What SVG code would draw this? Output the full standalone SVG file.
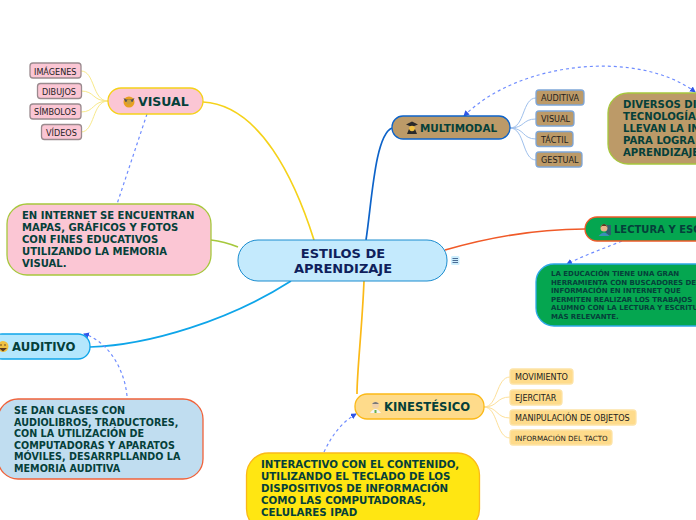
<svg xmlns="http://www.w3.org/2000/svg" width="696" height="520" viewBox="0 0 696 520">
<style>
text{font-family:"DejaVu Sans",Verdana,sans-serif;fill:#05403a}
.b{font-weight:700}
.leaf{font-size:8.100px;fill:#1c1c1c}
.pk{fill:#fbc6d4;stroke:#9a8a8e;stroke-width:1.300}
.br{fill:#bc9a68;stroke:#7ea6d8;stroke-width:1.300}
.or{fill:#fedb8b;stroke:#fde3a6;stroke-width:1.300}
.c{fill:none;stroke-width:1.700}
.s{fill:none;stroke-width:1}
.d{fill:none;stroke:#6f8cff;stroke-width:1.200;stroke-dasharray:3 3}
</style>
<defs>
<marker id="a" markerWidth="6" markerHeight="6" refX="5" refY="3" orient="auto-start-reverse" markerUnits="userSpaceOnUse"><path d="M0 0L6 3L0 6Z" fill="#2f55e8"/></marker>
</defs>
<g id="connectors">
<path class="c" stroke="#f5d21a" d="M314 240C295 180 260 105 203 102"/>
<path class="c" stroke="#a6c83c" d="M238 247C228 243 220 241 211 240"/>
<path class="c" stroke="#0ea5e9" d="M291 281C230 320 150 345 90 347"/>
<path class="c" stroke="#0d63c9" d="M366 240C372 200 375 135 392 128"/>
<path class="c" stroke="#f05a28" d="M445 250C490 237 540 229 585 229"/>
<path class="c" stroke="#fbb917" d="M364 281C362 330 357 370 357 394"/>
<g class="s" stroke="#f8e98a">
<path d="M108 101C92 101 95 71 81 71"/><path d="M108 101C92 101 95 91 81 91"/><path d="M108 101C92 101 95 112 81 112"/><path d="M108 101C92 101 95 132 81 132"/>
</g>
<g class="s" stroke="#9fc0ec">
<path d="M510 128C525 128 522 98 536 98"/><path d="M510 128C525 128 522 119 536 119"/><path d="M510 128C525 128 522 139 536 139"/><path d="M510 128C525 128 522 160 536 160"/>
</g>
<g class="s" stroke="#fde09a">
<path d="M484 407C498 407 496 377 510 377"/><path d="M484 407C498 407 496 397 510 397"/><path d="M484 407C498 407 496 418 510 418"/><path d="M484 407C498 407 496 438 510 438"/>
</g>
<path class="d" d="M147 114L117 204"/>
<path class="d" marker-start="url(#a)" marker-end="url(#a)" d="M464 116C520 60 640 50 695 92"/>
<path class="d" marker-end="url(#a)" d="M622 241C600 250 585 255 567 264"/>
<path class="d" marker-end="url(#a)" d="M324 452C332 435 342 422 356 414"/>
<path class="d" marker-end="url(#a)" d="M127 396C124 365 105 340 84 334"/>
</g>
<g id="center">
<rect x="238" y="240" width="209" height="41" rx="20" fill="#c4eafd" stroke="#1a8ccf"/>
<text class="b" font-size="13" x="343" y="258" text-anchor="middle" style="fill:#0f1f5c">ESTILOS DE</text>
<text class="b" font-size="13" x="343" y="273" text-anchor="middle" style="fill:#0f1f5c">APRENDIZAJE</text>
<rect x="451" y="256" width="8.500" height="9" rx="1.500" fill="#cdeefd"/>
<path d="M452.500 258.500h5.500M452.500 260.500h5.500M452.500 262.500h5.500" stroke="#2a4a7a" stroke-width=".8"/>
</g>
<g id="visual">
<rect x="108" y="88" width="95" height="26" rx="13" fill="#fbc6d4" stroke="#f5d21a" stroke-width="1.300"/>
<circle cx="129" cy="102" r="5.500" fill="#e8a020"/><path d="M123.500 98l2 4h7l2-4-3 1.500h-5z" fill="#555"/><circle cx="129" cy="102" r="2.500" fill="#c8a040"/>
<text class="b" font-size="12.500" x="138" y="106">VISUAL</text>
</g>
<g id="imagenes"><rect class="pk" x="30" y="63" width="51" height="15" rx="3"/><text class="leaf" x="34" y="74.500">IMÁGENES</text></g>
<g id="dibujos"><rect class="pk" x="37.500" y="83.500" width="44" height="15" rx="3"/><text class="leaf" x="42" y="94.500">DIBUJOS</text></g>
<g id="simbolos"><rect class="pk" x="30" y="104" width="51" height="15" rx="3"/><text class="leaf" x="34" y="115">SÍMBOLOS</text></g>
<g id="videos"><rect class="pk" x="41.500" y="124.500" width="40" height="15" rx="3"/><text class="leaf" x="46" y="135.500">VÍDEOS</text></g>
<g id="internet">
<rect x="7" y="204" width="204" height="71" rx="20" fill="#fbc6d4" stroke="#a6c83c" stroke-width="1.300"/>
<g class="b" font-size="10.050">
<text x="22" y="219">EN INTERNET SE ENCUENTRAN</text><text x="22" y="231">MAPAS, GRÁFICOS Y FOTOS</text><text x="22" y="243">CON FINES EDUCATIVOS</text><text x="22" y="255">UTILIZANDO LA MEMORIA</text><text x="22" y="267">VISUAL.</text>
</g>
</g>
<g id="multimodal">
<rect x="392" y="116" width="118" height="23" rx="11" fill="#bc9a68" stroke="#0d63c9" stroke-width="1.300"/>
<path d="M406 124.500l6-3 6 3-6 2.500zM407 134l2-5h6l2 5z" fill="#2a2a2a"/><circle cx="412" cy="128.500" r="2.800" fill="#f0c040"/>
<text class="b" font-size="10.400" x="420" y="132">MULTIMODAL</text>
</g>
<g id="auditiva"><rect class="br" x="536" y="90" width="48" height="15" rx="3"/><text class="leaf" x="541" y="101">AUDITIVA</text></g>
<g id="mvisual"><rect class="br" x="536" y="111" width="38" height="15" rx="3"/><text class="leaf" x="541" y="121.500">VISUAL</text></g>
<g id="tactil"><rect class="br" x="536" y="131.500" width="37" height="15" rx="3"/><text class="leaf" x="541" y="142.500">TÁCTIL</text></g>
<g id="gestual"><rect class="br" x="536" y="152" width="46" height="15" rx="3"/><text class="leaf" x="541" y="162.500">GESTUAL</text></g>
<g id="diversos">
<rect x="608" y="93" width="120" height="71" rx="20" fill="#bc9a68" stroke="#a6c83c" stroke-width="1.300"/>
<g class="b" font-size="10.100">
<text x="623" y="108">DIVERSOS DI</text><text x="623" y="120">TECNOLOGÍA</text><text x="623" y="132">LLEVAN LA IN</text><text x="623" y="144">PARA LOGRA</text><text x="623" y="156">APRENDIZAJE</text>
</g>
</g>
<g id="lectura">
<rect x="585" y="217" width="140" height="24" rx="12" fill="#05a650" stroke="#f05a28" stroke-width="1.300"/>
<rect x="606" y="225" width="5" height="10" fill="#2f5f6f"/><circle cx="604" cy="228" r="3.500" fill="#e8b48a"/><path d="M598.500 236q5.500-7 11 0z" fill="#3a8fb8"/><path d="M600 228q4-8 8 0l-2-2h-4z" fill="#5a3a20"/>
<text class="b" font-size="10" x="614" y="233">LECTURA Y ESC</text>
</g>
<g id="educacion">
<rect x="536" y="264" width="190" height="62" rx="18" fill="#05a650" stroke="#2fa8e8" stroke-width="1.300"/>
<g class="b" font-size="7">
<text x="551" y="276">LA EDUCACIÓN TIENE UNA GRAN</text><text x="551" y="285">HERRAMIENTA CON BUSCADORES DE</text><text x="551" y="293">INFORMACIÓN EN INTERNET QUE</text><text x="551" y="302">PERMITEN REALIZAR LOS TRABAJOS</text><text x="551" y="310">ALUMNO CON LA LECTURA Y ESCRITU</text><text x="551" y="319">MÁS RELEVANTE.</text>
</g>
</g>
<g id="auditivo">
<rect x="-10" y="334" width="100" height="25" rx="12" fill="#b4e7fd" stroke="#0ea5e9" stroke-width="1.300"/>
<circle cx="3" cy="346.500" r="5.500" fill="#f0c040"/><path d="M-1 348h8l-4 3.500z" fill="#5a3a20"/><circle cx="1" cy="345" r=".8" fill="#5a3a20"/><circle cx="5" cy="345" r=".8" fill="#5a3a20"/>
<text class="b" font-size="11.700" x="12" y="350.500">AUDITIVO</text>
</g>
<g id="sedan">
<rect x="-2" y="399" width="205" height="80" rx="20" fill="#c0ddf0" stroke="#f0623a" stroke-width="1.300"/>
<g class="b" font-size="9.600">
<text x="14" y="414">SE DAN CLASES CON</text><text x="14" y="425.500">AUDIOLIBROS, TRADUCTORES,</text><text x="14" y="437">CON LA UTILIZACIÓN DE</text><text x="14" y="448.500">COMPUTADORAS Y APARATOS</text><text x="14" y="460">MÓVILES, DESARRPLLANDO LA</text><text x="14" y="471.500">MEMORIA AUDITIVA</text>
</g>
</g>
<g id="kinestesico">
<rect x="355" y="394" width="129" height="25" rx="12" fill="#fedb8b" stroke="#fbb917" stroke-width="1.300"/>
<path d="M370 413q5.500-8 11 0z" fill="#f4f4f4"/><circle cx="375.500" cy="405" r="3.500" fill="#f0d0a8"/><path d="M372 404q3.500-4 7 0z" fill="#777"/><rect x="374.500" y="410" width="2" height="3" fill="#6ab04c"/>
<text class="b" font-size="11.600" x="384" y="411">KINESTÉSICO</text>
</g>
<g id="movimiento"><rect class="or" x="510" y="369" width="63" height="15" rx="3"/><text class="leaf" x="515" y="380">MOVIMIENTO</text></g>
<g id="ejercitar"><rect class="or" x="510" y="390" width="52" height="15" rx="3"/><text class="leaf" x="515" y="400.500">EJERCITAR</text></g>
<g id="manipulacion"><rect class="or" x="510" y="410" width="126" height="15" rx="3"/><text class="leaf" x="515" y="421">MANIPULACIÓN DE OBJETOS</text></g>
<g id="tacto"><rect class="or" x="510" y="430" width="102" height="15" rx="3"/><text class="leaf" style="font-size:7.100px" x="515" y="440.500">INFORMACIÓN DEL TACTO</text></g>
<g id="interactivo">
<rect x="246.500" y="453" width="233" height="78" rx="22" fill="#ffe612" stroke="#fbb917" stroke-width="1.300"/>
<g class="b" font-size="10.250">
<text x="261" y="468">INTERACTIVO CON EL CONTENIDO,</text><text x="261" y="480">UTILIZANDO EL TECLADO DE LOS</text><text x="261" y="492">DISPOSITIVOS DE INFORMACIÓN</text><text x="261" y="504">COMO LAS COMPUTADORAS,</text><text x="261" y="516">CELULARES IPAD</text>
</g>
</g>
</svg>
